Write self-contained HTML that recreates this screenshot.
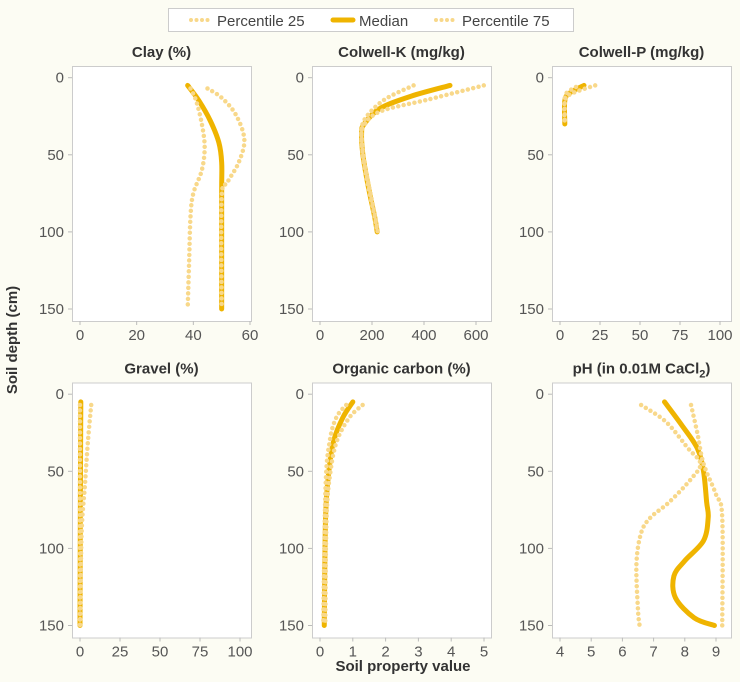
<!DOCTYPE html><html><head><style>body{margin:0;background:#fcfcf3}svg{display:block;font-family:"Liberation Sans",sans-serif}</style></head><body>
<svg id="s" width="740" height="682" xmlns="http://www.w3.org/2000/svg">
<rect width="740" height="682" fill="#fcfcf3"/>
<rect x="168.5" y="8.5" width="405" height="23" fill="#fff" stroke="#ccc"/>
<line x1="191" y1="20" x2="212" y2="20" stroke="#f8d88a" stroke-width="4" stroke-dasharray="0 5.5" stroke-linecap="round"/>
<text x="217" y="26" font-size="15" fill="#444">Percentile 25</text>
<line x1="333" y1="20" x2="353" y2="20" stroke="#efb400" stroke-width="5" stroke-linecap="round"/>
<text x="359" y="26" font-size="15" fill="#444">Median</text>
<line x1="436" y1="20" x2="457" y2="20" stroke="#f8d88a" stroke-width="4" stroke-dasharray="0 5.5" stroke-linecap="round"/>
<text x="462" y="26" font-size="15" fill="#444">Percentile 75</text>
<text transform="translate(17,340) rotate(-90)" text-anchor="middle" font-size="15" font-weight="bold" fill="#333">Soil depth (cm)</text>
<text x="403" y="671" text-anchor="middle" font-size="15" font-weight="bold" fill="#333">Soil property value</text>
</svg>
<script>
const S=document.getElementById('s'),NS='http://www.w3.org/2000/svg';
function el(t,a,txt){const e=document.createElementNS(NS,t);for(const k in a)e.setAttribute(k,a[k]);if(txt!==undefined)e.innerHTML=txt;S.appendChild(e);return e;}
const P=[
{t:'Clay (%)',c:0,r:0,x0:0,x1:60,w:170,ticks:[0,20,40,60],
 m:[[38,5],[42,15],[46,28],[49,42],[50,55],[50,75],[50,150]],
 p25:[[39,7],[41,15],[43,30],[44,45],[43,60],[40,75],[39,90],[38.5,120],[38,150]],
 p75:[[45,7],[50,13],[55,24],[58,40],[56,55],[52,68],[50,78],[50,150]]},
{t:'Colwell-K (mg/kg)',c:1,r:0,x0:0,x1:600,w:156,ticks:[0,200,400,600],
 m:[[500,5],[350,12],[230,20],[170,30],[160,36],[165,50],[185,70],[210,90],[220,100]],
 p25:[[360,5],[250,14],[180,25],[160,34],[165,50],[185,70],[210,90],[220,100]],
 p75:[[630,5],[420,14],[230,22],[165,32],[160,38],[167,52],[188,70],[212,90],[222,100]]},
{t:'Colwell-P (mg/kg)',c:2,r:0,x0:0,x1:100,w:160,ticks:[0,25,50,75,100],
 m:[[15,5],[6,10],[3,15],[3,30]],p25:[[10,6],[4,10],[3,15],[3,30]],p75:[[22,5],[8,10],[3,15],[3,30]]},
{t:'Gravel (%)',c:0,r:1,x0:0,x1:100,w:160,ticks:[0,25,50,75,100],
 m:[[0.5,5],[0.3,50],[0,150]],p25:[[0,7],[0,150]],p75:[[7,7],[5,30],[3,60],[1,90],[0,150]]},
{t:'Organic carbon (%)',c:1,r:1,x0:0,x1:5,w:164,ticks:[0,1,2,3,4,5],
 m:[[1.0,5],[0.7,15],[0.42,30],[0.27,50],[0.17,80],[0.13,150]],
 p25:[[0.8,7],[0.5,15],[0.3,30],[0.17,60],[0.1,150]],
 p75:[[1.3,7],[0.9,15],[0.52,30],[0.32,50],[0.2,80],[0.16,150]]},
{t:'pH (in 0.01M CaCl<tspan font-size="11" dy="4">2</tspan><tspan dy="-4">)</tspan>',c:2,r:1,x0:4,x1:9,w:156,ticks:[4,5,6,7,8,9],
 m:[[7.35,5],[7.9,20],[8.4,35],[8.6,50],[8.7,70],[8.75,80],[8.6,95],[8.0,108],[7.65,118],[7.7,132],[8.3,145],[8.95,150]],
 p25:[[6.6,7],[7.4,18],[8.1,35],[8.5,45],[8.2,55],[7.5,70],[6.9,80],[6.6,90],[6.45,110],[6.5,140],[6.55,150]],
 p75:[[8.2,7],[8.4,25],[8.6,45],[9.0,65],[9.2,80],[9.2,150]]}];
function path(pts){let d='M'+pts[0].join(',');for(let i=0;i<pts.length-1;i++){const p0=pts[i-1]||pts[i],p1=pts[i],p2=pts[i+1],p3=pts[i+2]||p2;
 d+=' C'+(p1[0]+(p2[0]-p0[0])/6)+','+(p1[1]+(p2[1]-p0[1])/6)+' '+(p2[0]-(p3[0]-p1[0])/6)+','+(p2[1]-(p3[1]-p1[1])/6)+' '+p2[0]+','+p2[1];}return d;}
P.forEach(p=>{const L=72+p.c*240,T=66+p.r*316.5,W=179,H=255,y0=T+11.7,k=1.542;
 const X=v=>L+8+(v-p.x0)/(p.x1-p.x0)*p.w,Y=v=>y0+v*k;
 el('rect',{x:L+.5,y:T+.5,width:W,height:H,fill:'#fff',stroke:'#ccc'});
 el('text',{x:L+W/2,y:T-9,'text-anchor':'middle','font-size':15,'font-weight':'bold',fill:'#333'},p.t);
 [0,50,100,150].forEach(v=>{el('line',{x1:L-4,x2:L,y1:Y(v),y2:Y(v),stroke:'#bbb'});el('text',{x:L-8,y:Y(v)+5,'text-anchor':'end','font-size':15,fill:'#555'},v);});
 p.ticks.forEach(v=>{el('line',{x1:X(v),x2:X(v),y1:T+H,y2:T+H+4,stroke:'#bbb'});el('text',{x:X(v),y:T+H+19,'text-anchor':'middle','font-size':15,fill:'#555'},v);});
 const m=pts=>pts.map(q=>[X(q[0]),Y(q[1])]);
 el('path',{d:path(m(p.m)),fill:'none',stroke:'#efb400','stroke-width':5,'stroke-linecap':'round'});
 [p.p25,p.p75].forEach(q=>el('path',{d:path(m(q)),fill:'none',stroke:'#f8d88a','stroke-width':4.5,'stroke-dasharray':'0 5.5','stroke-linecap':'round'}));
});
</script></body></html>
